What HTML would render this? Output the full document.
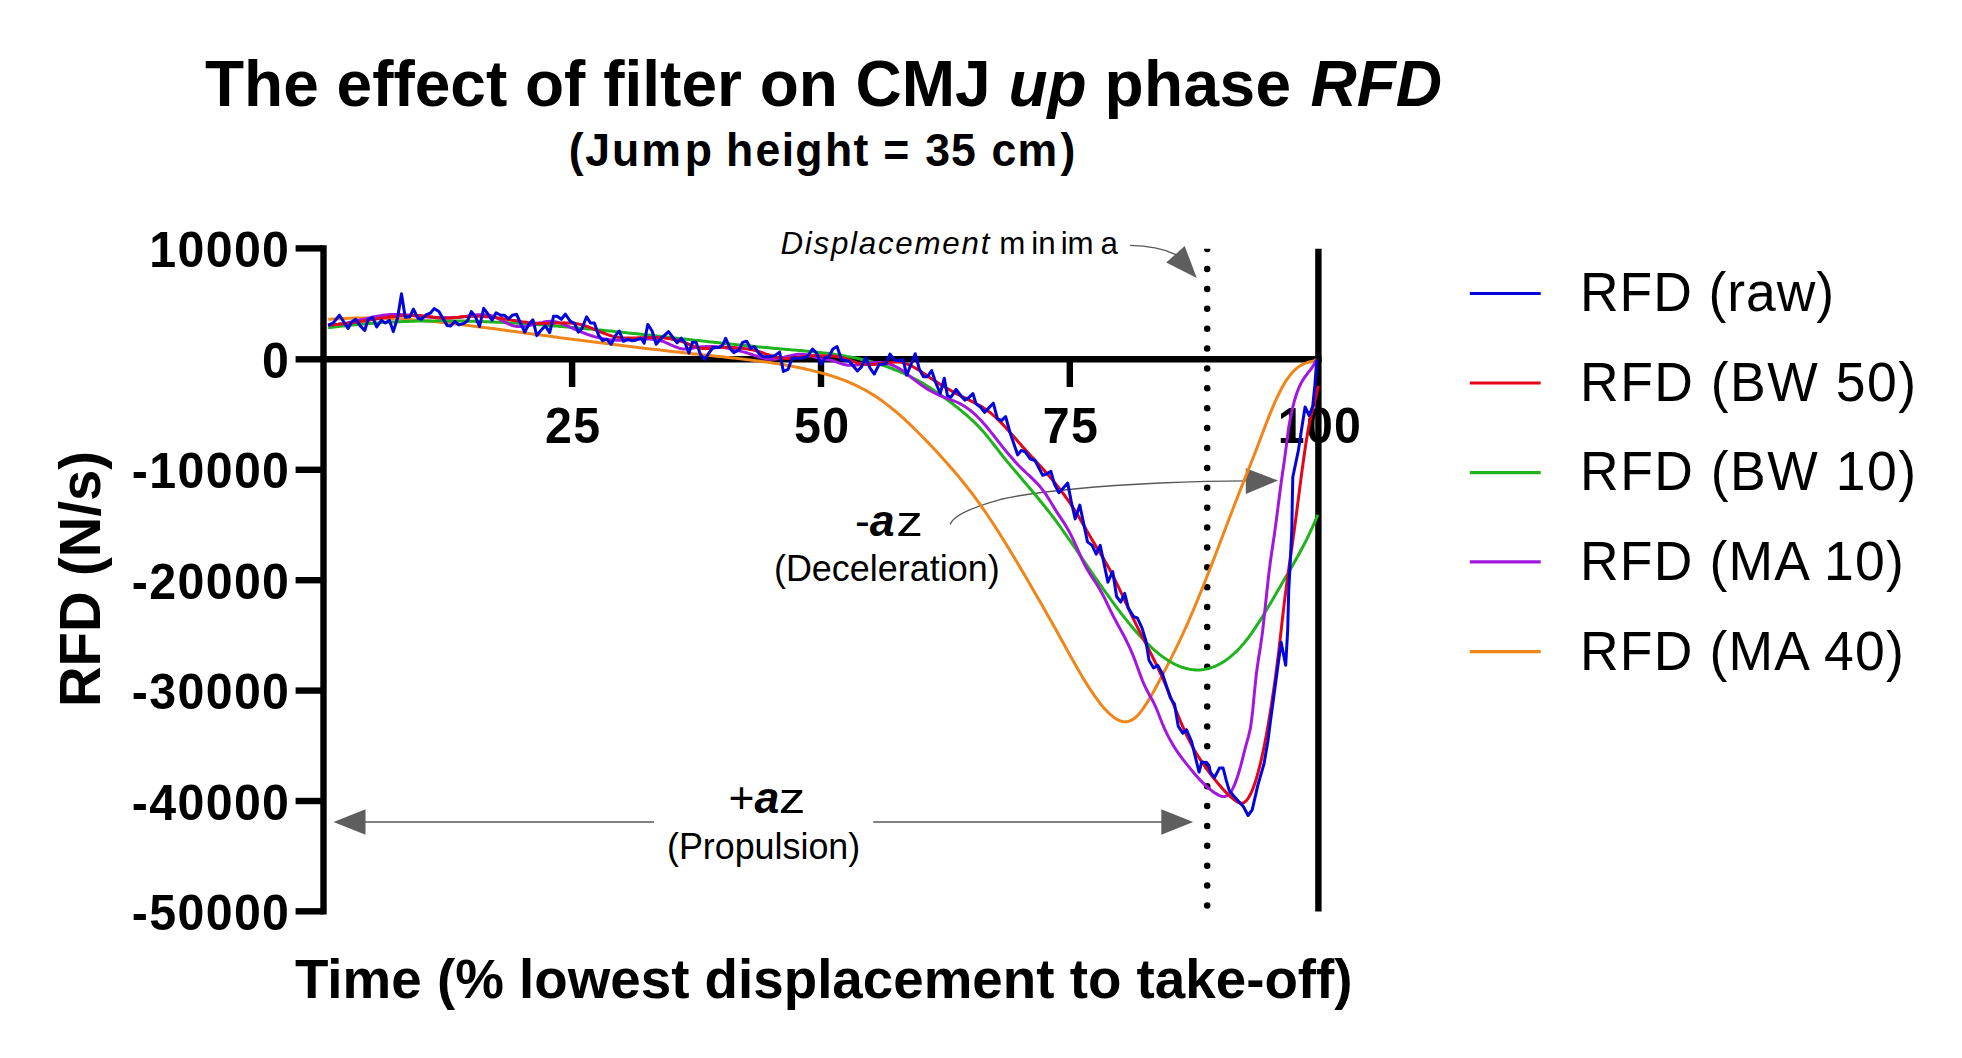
<!DOCTYPE html>
<html lang="en">
<head>
<meta charset="utf-8">
<title>The effect of filter on CMJ up phase RFD</title>
<style>
html,body{margin:0;padding:0;background:#fff;}
body{width:1962px;height:1058px;overflow:hidden;}
svg{display:block;}
</style>
</head>
<body>
<svg width="1962" height="1058" viewBox="0 0 1962 1058" font-family='"Liberation Sans", sans-serif'>
<rect width="1962" height="1058" fill="#ffffff"/>
<g font-weight="700" font-size="48.3" fill="#000" text-anchor="middle" letter-spacing="1.35">
<text transform="translate(573.3,443.4) scale(1,1.035)">25</text>
<text transform="translate(822.2,443.4) scale(1,1.035)">50</text>
<text transform="translate(1071.0,443.4) scale(1,1.035)">75</text>
<text transform="translate(1320.0,443.4) scale(1,1.035)">100</text>
</g>
<g stroke="#000" stroke-width="6.4" fill="none" stroke-linecap="butt">
<line x1="323.5" y1="245.2" x2="323.5" y2="914.5"/>
<line x1="323.5" y1="359.3" x2="1321.6" y2="359.3"/>
<line x1="1318.4" y1="248.8" x2="1318.4" y2="911.6"/>
<line x1="295.6" y1="248.4" x2="323.5" y2="248.4"/>
<line x1="295.6" y1="359.3" x2="323.5" y2="359.3"/>
<line x1="295.6" y1="469.8" x2="323.5" y2="469.8"/>
<line x1="295.6" y1="580.2" x2="323.5" y2="580.2"/>
<line x1="295.6" y1="690.6" x2="323.5" y2="690.6"/>
<line x1="295.6" y1="801.0" x2="323.5" y2="801.0"/>
<line x1="295.6" y1="911.3" x2="323.5" y2="911.3"/>
<line x1="572.1" y1="359.3" x2="572.1" y2="387.0"/>
<line x1="821.0" y1="359.3" x2="821.0" y2="387.0"/>
<line x1="1069.8" y1="359.3" x2="1069.8" y2="387.0"/>
</g>
<clipPath id="dc"><rect x="1200" y="248.7" width="15" height="680"/></clipPath>
<g fill="#000" clip-path="url(#dc)">
<circle cx="1207.2" cy="249.10" r="3.25"/>
<circle cx="1207.2" cy="268.99" r="3.25"/>
<circle cx="1207.2" cy="288.88" r="3.25"/>
<circle cx="1207.2" cy="308.77" r="3.25"/>
<circle cx="1207.2" cy="328.66" r="3.25"/>
<circle cx="1207.2" cy="348.55" r="3.25"/>
<circle cx="1207.2" cy="368.44" r="3.25"/>
<circle cx="1207.2" cy="388.33" r="3.25"/>
<circle cx="1207.2" cy="408.22" r="3.25"/>
<circle cx="1207.2" cy="428.11" r="3.25"/>
<circle cx="1207.2" cy="448.00" r="3.25"/>
<circle cx="1207.2" cy="467.89" r="3.25"/>
<circle cx="1207.2" cy="487.78" r="3.25"/>
<circle cx="1207.2" cy="507.67" r="3.25"/>
<circle cx="1207.2" cy="527.56" r="3.25"/>
<circle cx="1207.2" cy="547.45" r="3.25"/>
<circle cx="1207.2" cy="567.34" r="3.25"/>
<circle cx="1207.2" cy="587.23" r="3.25"/>
<circle cx="1207.2" cy="607.12" r="3.25"/>
<circle cx="1207.2" cy="627.01" r="3.25"/>
<circle cx="1207.2" cy="646.90" r="3.25"/>
<circle cx="1207.2" cy="666.79" r="3.25"/>
<circle cx="1207.2" cy="686.68" r="3.25"/>
<circle cx="1207.2" cy="706.57" r="3.25"/>
<circle cx="1207.2" cy="726.46" r="3.25"/>
<circle cx="1207.2" cy="746.35" r="3.25"/>
<circle cx="1207.2" cy="766.24" r="3.25"/>
<circle cx="1207.2" cy="786.13" r="3.25"/>
<circle cx="1207.2" cy="806.02" r="3.25"/>
<circle cx="1207.2" cy="825.91" r="3.25"/>
<circle cx="1207.2" cy="845.80" r="3.25"/>
<circle cx="1207.2" cy="865.69" r="3.25"/>
<circle cx="1207.2" cy="885.58" r="3.25"/>
<circle cx="1207.2" cy="905.47" r="3.25"/>
</g>
<g font-weight="700" font-size="48.3" fill="#000" text-anchor="end" letter-spacing="1.35">
<text transform="translate(290.3,266.9) scale(1,1.03)">10000</text>
<text transform="translate(290.3,377.8) scale(1,1.03)">0</text>
<text transform="translate(290.3,488.3) scale(1,1.03)">-10000</text>
<text transform="translate(290.3,598.7) scale(1,1.03)">-20000</text>
<text transform="translate(290.3,709.1) scale(1,1.03)">-30000</text>
<text transform="translate(290.3,819.5) scale(1,1.03)">-40000</text>
<text transform="translate(290.3,929.8) scale(1,1.03)">-50000</text>
</g>
<g stroke="#585858" stroke-width="1.4" fill="none">
<line x1="364" y1="822" x2="654" y2="822"/>
<line x1="873.2" y1="822" x2="1163" y2="822"/>
<path d="M950.2,524.5 C953,515 975,506.5 1001,499.3 C1040,490.5 1110,485.5 1160,483 C1195,481.6 1225,481 1247,480.9"/>
<path d="M1129.9,245.4 C1148,245.6 1163,248.5 1176,254.6"/>
</g>
<g fill="#5e5e5e" stroke="none">
<polygon points="333.5,822 365.5,809.3 365.5,834.8"/>
<polygon points="1193.2,822 1161.3,809.3 1161.3,834.8"/>
<polygon points="1278,480.6 1245.8,468.2 1245.8,494.1"/>
<polygon points="1196.8,277.9 1184.7,246.1 1166.2,262.6"/>
</g>
<g fill="none" stroke-width="3.0" stroke-linejoin="round" stroke-linecap="butt">
<path stroke="#f08519" d="M328.2,319.3 L330.2,319.3 L332.2,319.1 L334.2,319.0 L336.2,318.9 L338.2,318.8 L340.2,318.7 L342.2,318.6 L344.2,318.5 L346.2,318.4 L348.2,318.3 L350.2,318.2 L352.2,318.2 L354.2,318.1 L356.2,318.1 L358.2,318.1 L360.2,318.0 L362.2,318.0 L364.2,318.0 L366.2,318.0 L368.2,318.0 L370.2,318.0 L372.2,318.0 L374.2,318.1 L376.2,318.1 L378.2,318.1 L380.2,318.2 L382.2,318.2 L384.2,318.3 L386.2,318.4 L388.2,318.4 L390.2,318.5 L392.2,318.6 L394.2,318.7 L396.2,318.8 L398.2,318.9 L400.2,319.0 L402.2,319.1 L404.2,319.2 L406.2,319.4 L408.2,319.5 L410.2,319.6 L412.2,319.8 L414.2,319.9 L416.2,320.1 L418.2,320.2 L420.2,320.4 L422.2,320.6 L424.2,320.7 L426.2,320.9 L428.2,321.1 L430.2,321.3 L432.2,321.5 L434.2,321.6 L436.2,321.8 L438.2,322.0 L440.2,322.2 L442.2,322.5 L444.2,322.7 L446.2,322.9 L448.2,323.1 L450.2,323.3 L452.2,323.5 L454.2,323.8 L456.2,324.0 L458.2,324.2 L460.2,324.5 L462.2,324.7 L464.2,324.9 L466.2,325.2 L468.2,325.4 L470.2,325.7 L472.2,325.9 L474.2,326.2 L476.2,326.4 L478.2,326.7 L480.2,327.0 L482.2,327.2 L484.2,327.5 L486.2,327.7 L488.2,328.0 L490.2,328.3 L492.2,328.5 L494.3,328.8 L496.3,329.1 L498.3,329.3 L500.3,329.6 L502.3,329.9 L504.3,330.1 L506.3,330.4 L508.3,330.7 L510.3,331.0 L512.3,331.2 L514.3,331.5 L516.3,331.8 L518.3,332.1 L520.3,332.3 L522.3,332.6 L524.3,332.9 L526.3,333.1 L528.3,333.4 L530.3,333.7 L532.3,333.9 L534.3,334.2 L536.3,334.5 L538.3,334.7 L540.3,335.0 L542.3,335.3 L544.3,335.5 L546.3,335.8 L548.3,336.1 L550.3,336.3 L552.3,336.6 L554.3,336.9 L556.3,337.1 L558.3,337.4 L560.3,337.7 L562.3,337.9 L564.3,338.2 L566.3,338.4 L568.3,338.7 L570.3,339.0 L572.3,339.2 L574.3,339.5 L576.3,339.7 L578.3,340.0 L580.3,340.3 L582.3,340.5 L584.3,340.8 L586.3,341.0 L588.3,341.3 L590.3,341.5 L592.3,341.8 L594.3,342.0 L596.3,342.3 L598.3,342.6 L600.3,342.8 L602.3,343.1 L604.3,343.3 L606.3,343.6 L608.3,343.8 L610.3,344.1 L612.3,344.3 L614.3,344.5 L616.3,344.8 L618.3,345.0 L620.3,345.3 L622.3,345.5 L624.3,345.8 L626.3,346.0 L628.3,346.3 L630.3,346.5 L632.3,346.7 L634.3,347.0 L636.3,347.2 L638.3,347.5 L640.3,347.7 L642.3,347.9 L644.3,348.2 L646.3,348.4 L648.3,348.7 L650.3,348.9 L652.3,349.1 L654.3,349.4 L656.3,349.6 L658.3,349.8 L660.3,350.1 L662.3,350.3 L664.3,350.5 L666.3,350.7 L668.3,351.0 L670.3,351.2 L672.3,351.4 L674.3,351.7 L676.3,351.9 L678.3,352.1 L680.3,352.3 L682.3,352.5 L684.3,352.8 L686.3,353.0 L688.3,353.2 L690.3,353.4 L692.3,353.7 L694.3,353.9 L696.3,354.1 L698.3,354.3 L700.3,354.5 L702.3,354.7 L704.3,354.9 L706.3,355.2 L708.3,355.4 L710.3,355.6 L712.3,355.8 L714.3,356.0 L716.3,356.2 L718.3,356.4 L720.3,356.6 L722.3,356.8 L724.3,357.0 L726.3,357.3 L728.3,357.5 L730.3,357.7 L732.3,357.9 L734.3,358.1 L736.3,358.3 L738.3,358.6 L740.3,358.8 L742.3,359.0 L744.3,359.2 L746.3,359.5 L748.3,359.7 L750.3,359.9 L752.3,360.2 L754.3,360.4 L756.3,360.7 L758.3,360.9 L760.3,361.2 L762.3,361.5 L764.3,361.7 L766.3,362.0 L768.3,362.3 L770.3,362.6 L772.3,362.9 L774.3,363.2 L776.3,363.5 L778.3,363.8 L780.3,364.2 L782.3,364.5 L784.3,364.8 L786.3,365.2 L788.3,365.5 L790.3,365.9 L792.3,366.3 L794.3,366.7 L796.3,367.1 L798.3,367.5 L800.3,367.9 L802.3,368.3 L804.3,368.7 L806.3,369.2 L808.3,369.6 L810.3,370.1 L812.3,370.6 L814.3,371.1 L816.3,371.6 L818.3,372.1 L820.3,372.6 L822.4,373.2 L824.4,373.7 L826.4,374.3 L828.4,374.9 L830.4,375.5 L832.4,376.1 L834.4,376.8 L836.4,377.5 L838.4,378.2 L840.4,378.9 L842.4,379.6 L844.4,380.4 L846.4,381.2 L848.4,382.0 L850.4,382.9 L852.4,383.8 L854.4,384.7 L856.4,385.6 L858.4,386.6 L860.4,387.6 L862.4,388.7 L864.4,389.7 L866.4,390.8 L868.4,392.0 L870.4,393.2 L872.4,394.4 L874.4,395.6 L876.4,396.9 L878.4,398.3 L880.4,399.7 L882.4,401.1 L884.4,402.6 L886.4,404.1 L888.4,405.6 L890.4,407.2 L892.4,408.8 L894.4,410.5 L896.4,412.2 L898.4,413.9 L900.4,415.6 L902.4,417.4 L904.4,419.2 L906.4,421.1 L908.4,422.9 L910.4,424.8 L912.4,426.8 L914.4,428.7 L916.4,430.7 L918.4,432.7 L920.4,434.7 L922.4,436.7 L924.4,438.8 L926.4,440.9 L928.4,442.9 L930.4,445.0 L932.4,447.2 L934.4,449.3 L936.4,451.4 L938.4,453.6 L940.4,455.8 L942.4,458.0 L944.4,460.2 L946.4,462.4 L948.4,464.7 L950.4,467.0 L952.4,469.3 L954.4,471.6 L956.4,474.0 L958.4,476.4 L960.4,478.8 L962.4,481.2 L964.4,483.7 L966.4,486.2 L968.4,488.8 L970.4,491.4 L972.4,494.0 L974.4,496.7 L976.4,499.4 L978.4,502.1 L980.4,504.9 L982.4,507.8 L984.4,510.6 L986.4,513.5 L988.4,516.5 L990.4,519.5 L992.4,522.5 L994.4,525.6 L996.4,528.7 L998.4,531.8 L1000.4,535.0 L1002.4,538.2 L1004.4,541.4 L1006.4,544.6 L1008.4,547.9 L1010.4,551.2 L1012.4,554.5 L1014.4,557.8 L1016.4,561.2 L1018.4,564.5 L1020.4,567.9 L1022.4,571.3 L1024.4,574.7 L1026.4,578.1 L1028.4,581.6 L1030.4,585.0 L1032.4,588.4 L1034.4,591.9 L1036.4,595.4 L1038.4,598.8 L1040.4,602.3 L1042.4,605.8 L1044.4,609.3 L1046.4,612.9 L1048.4,616.4 L1050.4,619.9 L1052.4,623.5 L1054.4,627.0 L1056.4,630.6 L1058.4,634.2 L1060.4,637.8 L1062.4,641.4 L1064.4,645.0 L1066.4,648.7 L1068.4,652.3 L1070.4,655.9 L1072.4,659.5 L1074.4,663.0 L1076.4,666.6 L1078.4,670.1 L1080.4,673.5 L1082.4,676.9 L1084.4,680.2 L1086.4,683.4 L1088.4,686.6 L1090.4,689.7 L1092.4,692.7 L1094.4,695.6 L1096.4,698.4 L1098.4,701.1 L1100.4,703.7 L1102.4,706.1 L1104.4,708.4 L1106.4,710.6 L1108.4,712.6 L1110.4,714.5 L1112.4,716.2 L1114.4,717.7 L1116.4,719.0 L1118.4,720.1 L1120.4,720.9 L1122.4,721.5 L1124.4,721.7 L1126.4,721.7 L1128.4,721.4 L1130.4,720.7 L1132.4,719.7 L1134.4,718.3 L1136.4,716.6 L1138.4,714.5 L1140.4,712.2 L1142.4,709.6 L1144.4,706.7 L1146.4,703.7 L1148.4,700.4 L1150.4,697.0 L1152.5,693.5 L1154.5,689.9 L1156.5,686.2 L1158.5,682.4 L1160.5,678.7 L1162.5,674.9 L1164.5,671.1 L1166.5,667.2 L1168.5,663.3 L1170.5,659.4 L1172.5,655.4 L1174.5,651.4 L1176.5,647.3 L1178.5,643.1 L1180.5,638.9 L1182.5,634.6 L1184.5,630.2 L1186.5,625.8 L1188.5,621.3 L1190.5,616.7 L1192.5,612.0 L1194.5,607.3 L1196.5,602.5 L1198.5,597.7 L1200.5,592.8 L1202.5,587.8 L1204.5,582.8 L1206.5,577.8 L1208.5,572.7 L1210.5,567.6 L1212.5,562.4 L1214.5,557.2 L1216.5,552.0 L1218.5,546.8 L1220.5,541.5 L1222.5,536.3 L1224.5,531.0 L1226.5,525.7 L1228.5,520.5 L1230.5,515.2 L1232.5,510.0 L1234.5,504.8 L1236.5,499.7 L1238.5,494.5 L1240.5,489.4 L1242.5,484.4 L1244.5,479.4 L1246.5,474.4 L1248.5,469.4 L1250.5,464.4 L1252.5,459.3 L1254.5,454.2 L1256.5,449.1 L1258.5,443.8 L1260.5,438.5 L1262.5,433.2 L1264.5,427.9 L1266.5,422.7 L1268.5,417.6 L1270.5,412.6 L1272.5,407.8 L1274.5,403.1 L1276.5,398.7 L1278.5,394.5 L1280.5,390.5 L1282.5,386.7 L1284.5,383.3 L1286.5,380.1 L1288.5,377.3 L1290.5,374.7 L1292.5,372.3 L1294.5,370.3 L1296.5,368.4 L1298.5,366.9 L1300.5,365.6 L1302.5,364.5 L1304.5,363.6 L1306.5,362.9 L1308.5,362.3 L1310.5,361.7 L1312.5,361.2 L1314.5,360.6 L1316.5,359.6"/>
<path stroke="#1fb41c" d="M328.2,327.5 L330.2,327.6 L332.2,327.3 L334.2,327.1 L336.2,326.8 L338.2,326.6 L340.2,326.3 L342.2,326.1 L344.2,325.9 L346.2,325.7 L348.2,325.5 L350.2,325.2 L352.2,325.0 L354.2,324.8 L356.2,324.7 L358.2,324.5 L360.3,324.3 L362.3,324.1 L364.3,323.9 L366.3,323.8 L368.3,323.6 L370.3,323.4 L372.3,323.3 L374.3,323.1 L376.3,323.0 L378.3,322.9 L380.3,322.7 L382.3,322.6 L384.3,322.5 L386.3,322.4 L388.3,322.3 L390.3,322.1 L392.3,322.0 L394.3,321.9 L396.3,321.8 L398.3,321.8 L400.3,321.7 L402.3,321.6 L404.3,321.5 L406.3,321.4 L408.3,321.4 L410.3,321.3 L412.3,321.2 L414.3,321.2 L416.3,321.1 L418.3,321.1 L420.3,321.0 L422.4,321.0 L424.4,321.0 L426.4,320.9 L428.4,320.9 L430.4,320.9 L432.4,320.9 L434.4,320.9 L436.4,320.8 L438.4,320.8 L440.4,320.8 L442.4,320.8 L444.4,320.8 L446.4,320.8 L448.4,320.9 L450.4,320.9 L452.4,320.9 L454.4,320.9 L456.4,320.9 L458.4,321.0 L460.4,321.0 L462.4,321.0 L464.4,321.1 L466.4,321.1 L468.4,321.2 L470.4,321.2 L472.4,321.3 L474.4,321.3 L476.4,321.4 L478.4,321.4 L480.4,321.5 L482.4,321.6 L484.5,321.7 L486.5,321.7 L488.5,321.8 L490.5,321.9 L492.5,322.0 L494.5,322.1 L496.5,322.2 L498.5,322.2 L500.5,322.3 L502.5,322.4 L504.5,322.5 L506.5,322.6 L508.5,322.8 L510.5,322.9 L512.5,323.0 L514.5,323.1 L516.5,323.2 L518.5,323.3 L520.5,323.5 L522.5,323.6 L524.5,323.7 L526.5,323.8 L528.5,324.0 L530.5,324.1 L532.5,324.2 L534.5,324.4 L536.5,324.5 L538.5,324.7 L540.5,324.8 L542.5,325.0 L544.5,325.1 L546.6,325.3 L548.6,325.4 L550.6,325.6 L552.6,325.7 L554.6,325.9 L556.6,326.1 L558.6,326.2 L560.6,326.4 L562.6,326.6 L564.6,326.7 L566.6,326.9 L568.6,327.1 L570.6,327.3 L572.6,327.4 L574.6,327.6 L576.6,327.8 L578.6,328.0 L580.6,328.2 L582.6,328.4 L584.6,328.5 L586.6,328.7 L588.6,328.9 L590.6,329.1 L592.6,329.3 L594.6,329.5 L596.6,329.7 L598.6,329.9 L600.6,330.1 L602.6,330.3 L604.6,330.5 L606.7,330.7 L608.7,330.9 L610.7,331.1 L612.7,331.3 L614.7,331.5 L616.7,331.7 L618.7,331.9 L620.7,332.1 L622.7,332.3 L624.7,332.5 L626.7,332.8 L628.7,333.0 L630.7,333.2 L632.7,333.4 L634.7,333.6 L636.7,333.8 L638.7,334.0 L640.7,334.3 L642.7,334.5 L644.7,334.7 L646.7,334.9 L648.7,335.1 L650.7,335.3 L652.7,335.6 L654.7,335.8 L656.7,336.0 L658.7,336.2 L660.7,336.4 L662.7,336.7 L664.7,336.9 L666.7,337.1 L668.8,337.3 L670.8,337.5 L672.8,337.8 L674.8,338.0 L676.8,338.2 L678.8,338.4 L680.8,338.6 L682.8,338.9 L684.8,339.1 L686.8,339.3 L688.8,339.5 L690.8,339.7 L692.8,340.0 L694.8,340.2 L696.8,340.4 L698.8,340.6 L700.8,340.8 L702.8,341.1 L704.8,341.3 L706.8,341.5 L708.8,341.7 L710.8,341.9 L712.8,342.1 L714.8,342.4 L716.8,342.6 L718.8,342.8 L720.8,343.0 L722.8,343.2 L724.8,343.4 L726.8,343.6 L728.8,343.8 L730.9,344.1 L732.9,344.3 L734.9,344.5 L736.9,344.7 L738.9,344.9 L740.9,345.1 L742.9,345.3 L744.9,345.5 L746.9,345.7 L748.9,345.9 L750.9,346.1 L752.9,346.3 L754.9,346.5 L756.9,346.7 L758.9,346.9 L760.9,347.1 L762.9,347.2 L764.9,347.4 L766.9,347.6 L768.9,347.8 L770.9,348.0 L772.9,348.2 L774.9,348.4 L776.9,348.5 L778.9,348.7 L780.9,348.9 L782.9,349.1 L784.9,349.2 L786.9,349.4 L788.9,349.6 L790.9,349.8 L793.0,349.9 L795.0,350.1 L797.0,350.3 L799.0,350.5 L801.0,350.6 L803.0,350.8 L805.0,351.0 L807.0,351.2 L809.0,351.4 L811.0,351.6 L813.0,351.8 L815.0,352.0 L817.0,352.2 L819.0,352.4 L821.0,352.6 L823.0,352.9 L825.0,353.1 L827.0,353.3 L829.0,353.6 L831.0,353.9 L833.0,354.1 L835.0,354.4 L837.0,354.7 L839.0,355.0 L841.0,355.3 L843.0,355.7 L845.0,356.0 L847.0,356.4 L849.0,356.7 L851.0,357.1 L853.0,357.5 L855.1,357.9 L857.1,358.3 L859.1,358.8 L861.1,359.2 L863.1,359.7 L865.1,360.2 L867.1,360.7 L869.1,361.2 L871.1,361.7 L873.1,362.3 L875.1,362.9 L877.1,363.5 L879.1,364.1 L881.1,364.7 L883.1,365.4 L885.1,366.0 L887.1,366.7 L889.1,367.5 L891.1,368.2 L893.1,369.0 L895.1,369.8 L897.1,370.6 L899.1,371.4 L901.1,372.3 L903.1,373.2 L905.1,374.1 L907.1,375.0 L909.1,376.0 L911.1,377.0 L913.1,378.0 L915.1,379.1 L917.2,380.1 L919.2,381.3 L921.2,382.4 L923.2,383.6 L925.2,384.8 L927.2,386.0 L929.2,387.2 L931.2,388.5 L933.2,389.8 L935.2,391.2 L937.2,392.5 L939.2,393.9 L941.2,395.3 L943.2,396.8 L945.2,398.2 L947.2,399.7 L949.2,401.2 L951.2,402.7 L953.2,404.3 L955.2,405.9 L957.2,407.4 L959.2,409.1 L961.2,410.7 L963.2,412.3 L965.2,414.0 L967.2,415.7 L969.2,417.5 L971.2,419.3 L973.2,421.2 L975.2,423.1 L977.2,425.1 L979.3,427.2 L981.3,429.4 L983.3,431.6 L985.3,434.0 L987.3,436.4 L989.3,438.9 L991.3,441.4 L993.3,444.0 L995.3,446.5 L997.3,449.1 L999.3,451.7 L1001.3,454.2 L1003.3,456.7 L1005.3,459.2 L1007.3,461.7 L1009.3,464.1 L1011.3,466.5 L1013.3,468.9 L1015.3,471.3 L1017.3,473.6 L1019.3,476.0 L1021.3,478.3 L1023.3,480.7 L1025.3,483.0 L1027.3,485.4 L1029.3,487.8 L1031.3,490.1 L1033.3,492.5 L1035.3,494.9 L1037.3,497.3 L1039.3,499.7 L1041.4,502.2 L1043.4,504.7 L1045.4,507.2 L1047.4,509.7 L1049.4,512.3 L1051.4,514.9 L1053.4,517.5 L1055.4,520.2 L1057.4,522.9 L1059.4,525.7 L1061.4,528.5 L1063.4,531.3 L1065.4,534.1 L1067.4,537.0 L1069.4,539.8 L1071.4,542.7 L1073.4,545.6 L1075.4,548.5 L1077.4,551.5 L1079.4,554.4 L1081.4,557.3 L1083.4,560.3 L1085.4,563.2 L1087.4,566.1 L1089.4,569.1 L1091.4,572.0 L1093.4,574.9 L1095.4,577.8 L1097.4,580.7 L1099.4,583.6 L1101.5,586.5 L1103.5,589.3 L1105.5,592.1 L1107.5,594.9 L1109.5,597.7 L1111.5,600.5 L1113.5,603.2 L1115.5,605.9 L1117.5,608.6 L1119.5,611.2 L1121.5,613.8 L1123.5,616.4 L1125.5,618.9 L1127.5,621.4 L1129.5,623.8 L1131.5,626.2 L1133.5,628.6 L1135.5,630.9 L1137.5,633.2 L1139.5,635.4 L1141.5,637.5 L1143.5,639.7 L1145.5,641.7 L1147.5,643.7 L1149.5,645.6 L1151.5,647.5 L1153.5,649.3 L1155.5,651.1 L1157.5,652.7 L1159.5,654.4 L1161.5,655.9 L1163.6,657.4 L1165.6,658.8 L1167.6,660.1 L1169.6,661.3 L1171.6,662.5 L1173.6,663.6 L1175.6,664.6 L1177.6,665.5 L1179.6,666.3 L1181.6,667.1 L1183.6,667.7 L1185.6,668.3 L1187.6,668.8 L1189.6,669.2 L1191.6,669.5 L1193.6,669.7 L1195.6,669.9 L1197.6,669.9 L1199.6,669.9 L1201.6,669.7 L1203.6,669.5 L1205.6,669.1 L1207.6,668.7 L1209.6,668.2 L1211.6,667.5 L1213.6,666.8 L1215.6,666.0 L1217.6,665.1 L1219.6,664.0 L1221.6,662.9 L1223.6,661.7 L1225.7,660.3 L1227.7,658.9 L1229.7,657.3 L1231.7,655.7 L1233.7,653.9 L1235.7,652.1 L1237.7,650.1 L1239.7,648.0 L1241.7,645.8 L1243.7,643.5 L1245.7,641.0 L1247.7,638.5 L1249.7,635.8 L1251.7,633.1 L1253.7,630.2 L1255.7,627.2 L1257.7,624.2 L1259.7,621.1 L1261.7,617.9 L1263.7,614.6 L1265.7,611.3 L1267.7,608.0 L1269.7,604.6 L1271.7,601.2 L1273.7,597.7 L1275.7,594.3 L1277.7,590.8 L1279.7,587.4 L1281.7,583.9 L1283.7,580.5 L1285.7,577.1 L1287.8,573.7 L1289.8,570.2 L1291.8,566.8 L1293.8,563.3 L1295.8,559.8 L1297.8,556.2 L1299.8,552.5 L1301.8,548.8 L1303.8,545.0 L1305.8,541.1 L1307.8,537.0 L1309.8,532.9 L1311.8,528.6 L1313.8,524.2 L1315.8,519.7 L1317.8,514.7"/>
<path stroke="#a316e0" d="M328.2,324.9 L330.2,324.9 L332.2,324.8 L334.2,324.7 L336.2,324.5 L338.2,324.3 L340.2,324.0 L342.2,323.8 L344.2,323.4 L346.2,323.1 L348.2,322.7 L350.2,322.3 L352.2,321.9 L354.2,321.4 L356.2,321.0 L358.2,320.5 L360.2,320.0 L362.2,319.5 L364.2,319.1 L366.2,318.6 L368.2,318.1 L370.2,317.7 L372.2,317.2 L374.2,316.8 L376.2,316.4 L378.2,316.1 L380.2,315.7 L382.2,315.4 L384.2,315.1 L386.2,314.9 L388.2,314.7 L390.2,314.6 L392.2,314.5 L394.2,314.4 L396.2,314.4 L398.2,314.5 L400.2,314.6 L402.2,314.7 L404.2,314.8 L406.2,315.0 L408.2,315.1 L410.2,315.3 L412.2,315.5 L414.2,315.7 L416.2,315.9 L418.2,316.1 L420.2,316.3 L422.2,316.5 L424.2,316.7 L426.2,316.8 L428.2,317.0 L430.2,317.2 L432.2,317.3 L434.2,317.4 L436.2,317.5 L438.2,317.6 L440.2,317.7 L442.2,317.8 L444.2,317.8 L446.2,317.8 L448.2,317.8 L450.2,317.8 L452.2,317.7 L454.2,317.6 L456.2,317.5 L458.2,317.4 L460.2,317.2 L462.2,316.9 L464.2,316.7 L466.2,316.4 L468.2,316.1 L470.2,315.8 L472.2,315.5 L474.2,315.2 L476.2,315.0 L478.2,314.8 L480.2,314.7 L482.2,314.6 L484.2,314.7 L486.2,314.8 L488.2,315.1 L490.2,315.5 L492.2,316.0 L494.3,316.7 L496.3,317.6 L498.3,318.6 L500.3,319.6 L502.3,320.7 L504.3,321.8 L506.3,322.9 L508.3,323.9 L510.3,324.7 L512.3,325.5 L514.3,326.0 L516.3,326.4 L518.3,326.6 L520.3,326.6 L522.3,326.6 L524.3,326.4 L526.3,326.1 L528.3,325.8 L530.3,325.3 L532.3,324.9 L534.3,324.4 L536.3,323.8 L538.3,323.3 L540.3,322.8 L542.3,322.4 L544.3,321.9 L546.3,321.6 L548.3,321.4 L550.3,321.3 L552.3,321.4 L554.3,321.6 L556.3,322.0 L558.3,322.5 L560.3,323.2 L562.3,323.9 L564.3,324.7 L566.3,325.5 L568.3,326.4 L570.3,327.3 L572.3,328.2 L574.3,329.1 L576.3,329.9 L578.3,330.8 L580.3,331.6 L582.3,332.4 L584.3,333.2 L586.3,334.0 L588.3,334.7 L590.3,335.3 L592.3,336.0 L594.3,336.6 L596.3,337.1 L598.3,337.6 L600.3,338.1 L602.3,338.5 L604.3,338.9 L606.3,339.2 L608.3,339.5 L610.3,339.7 L612.3,339.9 L614.3,340.1 L616.3,340.2 L618.3,340.3 L620.3,340.3 L622.3,340.3 L624.3,340.2 L626.3,340.1 L628.3,340.0 L630.3,339.8 L632.3,339.7 L634.3,339.5 L636.3,339.4 L638.3,339.2 L640.3,339.1 L642.3,339.0 L644.3,338.9 L646.3,338.9 L648.3,338.9 L650.3,339.0 L652.3,339.2 L654.3,339.4 L656.3,339.7 L658.3,340.1 L660.3,340.6 L662.3,341.2 L664.3,341.9 L666.3,342.8 L668.3,343.6 L670.3,344.6 L672.3,345.5 L674.3,346.4 L676.3,347.2 L678.3,347.9 L680.3,348.5 L682.3,348.9 L684.3,349.1 L686.3,349.1 L688.3,348.9 L690.3,348.6 L692.3,348.3 L694.3,347.9 L696.3,347.5 L698.3,347.2 L700.3,347.0 L702.3,346.8 L704.3,346.7 L706.3,346.6 L708.3,346.5 L710.3,346.5 L712.3,346.5 L714.3,346.6 L716.3,346.7 L718.3,346.9 L720.3,347.1 L722.3,347.3 L724.3,347.6 L726.3,347.9 L728.3,348.3 L730.3,348.6 L732.3,349.1 L734.3,349.5 L736.3,350.0 L738.3,350.5 L740.3,351.0 L742.3,351.6 L744.3,352.1 L746.3,352.7 L748.3,353.4 L750.3,354.0 L752.3,354.7 L754.3,355.4 L756.3,356.0 L758.3,356.7 L760.3,357.3 L762.3,357.9 L764.3,358.4 L766.3,358.8 L768.3,359.1 L770.3,359.2 L772.3,359.3 L774.3,359.2 L776.3,359.0 L778.3,358.6 L780.3,358.2 L782.3,357.8 L784.3,357.3 L786.3,356.7 L788.3,356.2 L790.3,355.7 L792.3,355.3 L794.3,354.9 L796.3,354.5 L798.3,354.3 L800.3,354.2 L802.3,354.3 L804.3,354.5 L806.3,354.8 L808.3,355.3 L810.3,355.8 L812.3,356.4 L814.3,357.0 L816.3,357.6 L818.3,358.1 L820.3,358.6 L822.4,359.0 L824.4,359.3 L826.4,359.5 L828.4,359.8 L830.4,360.1 L832.4,360.5 L834.4,361.1 L836.4,361.8 L838.4,362.7 L840.4,363.4 L842.4,364.1 L844.4,364.6 L846.4,364.9 L848.4,365.2 L850.4,365.3 L852.4,365.3 L854.4,365.2 L856.4,365.0 L858.4,364.8 L860.4,364.5 L862.4,364.3 L864.4,363.9 L866.4,363.6 L868.4,363.3 L870.4,363.1 L872.4,362.8 L874.4,362.6 L876.4,362.5 L878.4,362.5 L880.4,362.5 L882.4,362.7 L884.4,363.0 L886.4,363.3 L888.4,363.8 L890.4,364.4 L892.4,365.2 L894.4,366.0 L896.4,367.0 L898.4,368.1 L900.4,369.3 L902.4,370.6 L904.4,372.0 L906.4,373.5 L908.4,375.1 L910.4,376.7 L912.4,378.3 L914.4,379.9 L916.4,381.4 L918.4,382.9 L920.4,384.4 L922.4,385.7 L924.4,387.1 L926.4,388.4 L928.4,389.6 L930.4,390.8 L932.4,391.9 L934.4,392.9 L936.4,393.9 L938.4,394.9 L940.4,395.8 L942.4,396.6 L944.4,397.4 L946.4,398.1 L948.4,398.8 L950.4,399.6 L952.4,400.3 L954.4,401.1 L956.4,402.0 L958.4,402.9 L960.4,403.9 L962.4,405.0 L964.4,406.2 L966.4,407.5 L968.4,408.9 L970.4,410.5 L972.4,412.1 L974.4,413.9 L976.4,415.7 L978.4,417.7 L980.4,419.8 L982.4,421.9 L984.4,424.2 L986.4,426.5 L988.4,429.0 L990.4,431.4 L992.4,433.9 L994.4,436.5 L996.4,439.0 L998.4,441.6 L1000.4,444.1 L1002.4,446.6 L1004.4,449.1 L1006.4,451.6 L1008.4,454.0 L1010.4,456.3 L1012.4,458.6 L1014.4,460.9 L1016.4,463.1 L1018.4,465.2 L1020.4,467.2 L1022.4,469.2 L1024.4,471.1 L1026.4,473.0 L1028.4,474.8 L1030.4,476.7 L1032.4,478.6 L1034.4,480.6 L1036.4,482.6 L1038.4,484.8 L1040.4,487.1 L1042.4,489.6 L1044.4,492.2 L1046.4,495.1 L1048.4,498.2 L1050.4,501.5 L1052.4,504.8 L1054.4,508.1 L1056.4,511.3 L1058.4,514.3 L1060.4,517.3 L1062.4,520.3 L1064.4,523.4 L1066.4,526.7 L1068.4,530.2 L1070.4,533.9 L1072.4,537.9 L1074.4,542.1 L1076.4,546.5 L1078.4,551.1 L1080.4,555.7 L1082.4,560.1 L1084.4,564.2 L1086.4,567.9 L1088.4,571.3 L1090.4,574.6 L1092.4,577.7 L1094.4,580.7 L1096.4,583.8 L1098.4,587.0 L1100.4,590.4 L1102.4,594.0 L1104.4,597.9 L1106.4,602.0 L1108.4,606.1 L1110.4,610.3 L1112.4,614.3 L1114.4,618.3 L1116.4,622.0 L1118.4,625.7 L1120.4,629.4 L1122.4,633.0 L1124.4,636.8 L1126.4,640.7 L1128.4,644.8 L1130.4,649.1 L1132.4,653.8 L1134.4,658.9 L1136.4,664.3 L1138.4,669.8 L1140.4,675.3 L1142.4,680.5 L1144.4,685.2 L1146.4,689.3 L1148.4,693.1 L1150.4,696.7 L1152.5,700.3 L1154.5,704.3 L1156.5,708.8 L1158.5,713.8 L1160.5,719.0 L1162.5,724.0 L1164.5,728.6 L1166.5,732.9 L1168.5,736.9 L1170.5,740.6 L1172.5,744.1 L1174.5,747.4 L1176.5,750.5 L1178.5,753.4 L1180.5,756.2 L1182.5,758.8 L1184.5,761.4 L1186.5,763.9 L1188.5,766.4 L1190.5,768.9 L1192.5,771.3 L1194.5,773.7 L1196.5,776.0 L1198.5,778.2 L1200.5,780.4 L1202.5,782.4 L1204.5,784.4 L1206.5,786.3 L1208.5,788.1 L1210.5,789.7 L1212.5,791.3 L1214.5,792.7 L1216.5,793.9 L1218.5,795.1 L1220.5,796.0 L1222.5,796.5 L1224.5,796.5 L1226.5,795.9 L1228.5,794.6 L1230.5,792.4 L1232.5,789.2 L1234.5,784.9 L1236.5,779.6 L1238.5,773.5 L1240.5,766.6 L1242.5,759.0 L1244.5,751.0 L1246.5,743.3 L1248.5,736.3 L1250.5,727.9 L1252.5,712.8 L1254.5,691.6 L1256.5,672.7 L1258.5,658.7 L1260.5,646.4 L1262.5,632.1 L1264.5,614.2 L1266.5,595.0 L1268.5,576.7 L1270.5,560.7 L1272.5,547.0 L1274.5,533.6 L1276.5,518.9 L1278.5,503.3 L1280.5,487.7 L1282.5,473.2 L1284.5,459.6 L1286.5,444.4 L1288.5,428.8 L1290.5,417.6 L1292.5,408.3 L1294.5,400.5 L1296.5,394.0 L1298.5,388.7 L1300.5,384.3 L1302.5,380.6 L1304.5,377.5 L1306.5,374.8 L1308.5,372.2 L1310.5,369.6 L1312.5,366.8 L1314.5,363.6 L1316.5,360.0"/>
<path stroke="#e3061a" d="M328.2,324.9 L330.2,324.7 L332.2,324.7 L334.2,324.6 L336.2,324.4 L338.2,324.3 L340.2,324.1 L342.2,324.0 L344.2,323.7 L346.2,323.5 L348.2,323.3 L350.2,323.0 L352.2,322.8 L354.2,322.5 L356.2,322.2 L358.2,321.9 L360.2,321.6 L362.2,321.2 L364.2,320.9 L366.2,320.6 L368.2,320.2 L370.2,319.9 L372.2,319.6 L374.2,319.2 L376.2,318.9 L378.2,318.6 L380.2,318.3 L382.2,318.0 L384.2,317.7 L386.2,317.4 L388.2,317.1 L390.2,316.9 L392.2,316.6 L394.2,316.4 L396.2,316.2 L398.2,316.0 L400.2,315.8 L402.2,315.7 L404.2,315.5 L406.2,315.4 L408.2,315.4 L410.2,315.3 L412.2,315.3 L414.2,315.3 L416.2,315.4 L418.2,315.5 L420.2,315.6 L422.2,315.8 L424.2,316.0 L426.2,316.2 L428.2,316.4 L430.2,316.7 L432.2,317.0 L434.2,317.2 L436.2,317.5 L438.2,317.7 L440.2,317.9 L442.2,318.0 L444.2,318.1 L446.2,318.1 L448.2,318.1 L450.2,318.0 L452.2,317.8 L454.2,317.6 L456.2,317.4 L458.2,317.2 L460.2,316.9 L462.2,316.7 L464.2,316.5 L466.2,316.4 L468.2,316.3 L470.2,316.2 L472.2,316.2 L474.2,316.1 L476.2,316.2 L478.2,316.2 L480.2,316.3 L482.2,316.4 L484.2,316.5 L486.2,316.7 L488.2,316.8 L490.2,317.0 L492.2,317.3 L494.2,317.5 L496.2,317.7 L498.2,318.0 L500.2,318.3 L502.2,318.6 L504.2,318.9 L506.2,319.2 L508.2,319.5 L510.2,319.8 L512.2,320.2 L514.2,320.5 L516.2,320.8 L518.2,321.1 L520.2,321.5 L522.2,321.8 L524.2,322.0 L526.2,322.3 L528.2,322.6 L530.2,322.8 L532.2,323.0 L534.2,323.2 L536.2,323.3 L538.2,323.4 L540.2,323.5 L542.2,323.5 L544.2,323.5 L546.2,323.5 L548.2,323.4 L550.2,323.3 L552.2,323.2 L554.2,323.2 L556.2,323.1 L558.2,323.0 L560.2,322.9 L562.2,322.9 L564.2,322.8 L566.2,322.9 L568.2,322.9 L570.2,323.0 L572.2,323.2 L574.2,323.4 L576.2,323.6 L578.2,324.0 L580.2,324.4 L582.2,324.9 L584.2,325.5 L586.2,326.1 L588.2,326.8 L590.2,327.6 L592.2,328.4 L594.2,329.3 L596.2,330.1 L598.2,331.0 L600.2,331.8 L602.2,332.6 L604.2,333.4 L606.2,334.2 L608.2,334.9 L610.2,335.5 L612.2,336.1 L614.2,336.6 L616.2,337.0 L618.2,337.3 L620.2,337.6 L622.2,337.8 L624.2,337.9 L626.2,338.0 L628.2,338.0 L630.2,338.0 L632.2,338.0 L634.2,338.0 L636.2,337.9 L638.2,337.8 L640.2,337.8 L642.2,337.7 L644.2,337.6 L646.2,337.6 L648.2,337.5 L650.2,337.5 L652.2,337.5 L654.2,337.5 L656.2,337.5 L658.2,337.6 L660.2,337.7 L662.2,337.9 L664.2,338.0 L666.2,338.3 L668.2,338.5 L670.2,338.8 L672.2,339.2 L674.2,339.6 L676.2,340.0 L678.2,340.5 L680.2,341.1 L682.2,341.7 L684.2,342.4 L686.2,343.2 L688.2,344.0 L690.2,344.8 L692.2,345.5 L694.2,346.3 L696.2,347.0 L698.2,347.6 L700.2,348.1 L702.2,348.4 L704.2,348.6 L706.2,348.6 L708.2,348.5 L710.2,348.3 L712.2,348.1 L714.2,347.9 L716.2,347.6 L718.2,347.5 L720.2,347.3 L722.2,347.3 L724.2,347.2 L726.2,347.2 L728.2,347.3 L730.2,347.3 L732.2,347.4 L734.2,347.5 L736.2,347.7 L738.2,347.9 L740.2,348.1 L742.2,348.3 L744.2,348.6 L746.2,348.8 L748.2,349.1 L750.2,349.5 L752.2,349.9 L754.2,350.3 L756.2,350.8 L758.2,351.4 L760.2,352.0 L762.2,352.7 L764.2,353.4 L766.2,354.1 L768.2,354.7 L770.2,355.4 L772.2,356.0 L774.2,356.6 L776.2,357.2 L778.2,357.6 L780.2,358.0 L782.2,358.2 L784.2,358.4 L786.2,358.4 L788.2,358.4 L790.2,358.3 L792.2,358.1 L794.2,357.9 L796.2,357.6 L798.2,357.4 L800.2,357.1 L802.2,356.8 L804.2,356.5 L806.2,356.3 L808.2,356.0 L810.2,355.8 L812.2,355.7 L814.2,355.6 L816.2,355.6 L818.2,355.7 L820.2,355.7 L822.2,355.8 L824.3,355.8 L826.3,355.9 L828.3,355.9 L830.3,356.0 L832.3,356.1 L834.3,356.3 L836.3,356.5 L838.3,356.8 L840.3,357.2 L842.3,357.7 L844.3,358.2 L846.3,358.9 L848.3,359.6 L850.3,360.4 L852.3,361.2 L854.3,361.9 L856.3,362.6 L858.3,363.2 L860.3,363.7 L862.3,364.0 L864.3,364.3 L866.3,364.5 L868.3,364.6 L870.3,364.6 L872.3,364.5 L874.3,364.4 L876.3,364.2 L878.3,364.0 L880.3,363.8 L882.3,363.5 L884.3,363.3 L886.3,363.0 L888.3,362.7 L890.3,362.5 L892.3,362.2 L894.3,362.1 L896.3,362.0 L898.3,362.1 L900.3,362.3 L902.3,362.6 L904.3,363.1 L906.3,363.8 L908.3,364.5 L910.3,365.4 L912.3,366.4 L914.3,367.5 L916.3,368.6 L918.3,369.8 L920.3,371.1 L922.3,372.4 L924.3,373.8 L926.3,375.1 L928.3,376.5 L930.3,377.9 L932.3,379.2 L934.3,380.5 L936.3,381.8 L938.3,383.1 L940.3,384.4 L942.3,385.6 L944.3,386.8 L946.3,388.0 L948.3,389.1 L950.3,390.3 L952.3,391.4 L954.3,392.5 L956.3,393.6 L958.3,394.6 L960.3,395.6 L962.3,396.7 L964.3,397.6 L966.3,398.6 L968.3,399.6 L970.3,400.6 L972.3,401.6 L974.3,402.6 L976.3,403.7 L978.3,404.8 L980.3,405.9 L982.3,407.1 L984.3,408.4 L986.3,409.8 L988.3,411.2 L990.3,412.7 L992.3,414.4 L994.3,416.1 L996.3,417.9 L998.3,419.9 L1000.3,421.9 L1002.3,423.9 L1004.3,426.1 L1006.3,428.3 L1008.3,430.5 L1010.3,432.7 L1012.3,435.0 L1014.3,437.3 L1016.3,439.6 L1018.3,441.9 L1020.3,444.1 L1022.3,446.4 L1024.3,448.6 L1026.3,450.8 L1028.3,453.0 L1030.3,455.2 L1032.3,457.4 L1034.3,459.5 L1036.3,461.7 L1038.3,463.9 L1040.3,466.1 L1042.3,468.3 L1044.3,470.5 L1046.3,472.8 L1048.3,475.1 L1050.3,477.4 L1052.3,479.7 L1054.3,482.2 L1056.3,484.6 L1058.3,487.1 L1060.3,489.7 L1062.3,492.3 L1064.3,495.0 L1066.3,497.8 L1068.3,500.6 L1070.3,503.5 L1072.3,506.5 L1074.3,509.6 L1076.3,512.8 L1078.3,516.1 L1080.3,519.4 L1082.3,522.9 L1084.3,526.3 L1086.3,529.8 L1088.3,533.3 L1090.3,536.8 L1092.3,540.2 L1094.3,543.6 L1096.3,546.9 L1098.3,550.2 L1100.3,553.4 L1102.3,556.6 L1104.3,560.0 L1106.3,563.4 L1108.3,567.0 L1110.3,570.7 L1112.3,574.5 L1114.3,578.5 L1116.3,582.6 L1118.3,586.7 L1120.3,590.9 L1122.3,595.2 L1124.3,599.5 L1126.3,603.8 L1128.3,608.1 L1130.3,612.3 L1132.3,616.6 L1134.3,620.7 L1136.3,624.8 L1138.3,628.8 L1140.3,632.8 L1142.3,636.7 L1144.3,640.7 L1146.3,644.6 L1148.3,648.5 L1150.3,652.4 L1152.3,656.4 L1154.3,660.4 L1156.3,664.5 L1158.3,668.7 L1160.3,673.0 L1162.3,677.4 L1164.3,681.9 L1166.3,686.6 L1168.3,691.4 L1170.3,696.3 L1172.3,701.3 L1174.3,706.2 L1176.3,711.2 L1178.3,716.1 L1180.3,720.9 L1182.3,725.6 L1184.3,730.1 L1186.3,734.5 L1188.3,738.6 L1190.3,742.6 L1192.3,746.3 L1194.3,749.9 L1196.3,753.3 L1198.3,756.5 L1200.3,759.6 L1202.3,762.6 L1204.3,765.5 L1206.3,768.3 L1208.3,771.1 L1210.3,773.8 L1212.3,776.4 L1214.3,778.9 L1216.3,781.4 L1218.3,783.8 L1220.3,786.1 L1222.3,788.4 L1224.3,790.6 L1226.3,792.6 L1228.3,794.6 L1230.3,796.5 L1232.3,798.2 L1234.3,799.8 L1236.3,801.3 L1238.3,802.5 L1240.3,803.2 L1242.3,803.3 L1244.3,802.4 L1246.3,800.7 L1248.3,798.1 L1250.3,794.6 L1252.3,790.2 L1254.3,784.9 L1256.3,778.7 L1258.3,771.7 L1260.3,763.9 L1262.3,755.2 L1264.3,745.7 L1266.3,735.3 L1268.3,724.1 L1270.3,712.0 L1272.3,699.1 L1274.3,685.4 L1276.3,670.7 L1278.3,654.9 L1280.3,637.9 L1282.3,619.9 L1284.3,602.6 L1286.3,586.9 L1288.3,572.3 L1290.3,558.2 L1292.3,544.2 L1294.3,529.8 L1296.3,514.7 L1298.3,499.2 L1300.3,483.7 L1302.3,468.6 L1304.3,454.2 L1306.3,440.9 L1308.3,429.1 L1310.3,419.0 L1312.3,410.3 L1314.3,402.3 L1316.3,394.4 L1318.3,385.9"/>
<path stroke="#0404dc" d="M328.2,325.4 L333.3,322.9 L339.4,315.2 L348.1,328.5 L351.6,321.9 L355.7,319.3 L360.3,325.9 L364.7,330.5 L368.0,319.8 L372.6,317.3 L376.7,327.0 L381.3,320.3 L385.3,322.9 L389.4,320.3 L393.3,331.6 L397.6,317.8 L401.5,293.8 L405.2,317.3 L409.8,316.8 L413.4,309.1 L418.0,318.3 L421.6,319.3 L426.2,314.7 L430.3,313.2 L434.1,308.6 L438.9,311.6 L442.5,317.8 L447.1,325.4 L450.7,325.9 L454.8,321.3 L458.8,324.9 L464.0,323.4 L467.5,320.8 L471.4,311.6 L475.2,316.2 L479.5,326.5 L483.7,308.4 L487.4,313.2 L492.0,320.3 L496.1,312.7 L500.7,315.2 L504.3,315.2 L508.4,318.8 L512.4,315.2 L516.5,314.2 L520.4,322.9 L524.8,332.1 L529.1,323.9 L532.9,319.8 L536.8,335.6 L540.8,330.5 L545.4,325.9 L549.7,332.6 L553.6,316.2 L557.2,316.2 L561.3,319.3 L565.3,314.2 L570.4,321.3 L574.5,323.4 L578.4,332.1 L581.7,329.0 L586.6,316.8 L590.4,322.9 L594.4,322.9 L598.5,335.1 L602.6,340.7 L606.7,339.2 L611.1,344.3 L615.4,335.6 L619.2,331.0 L623.5,341.3 L627.6,339.2 L631.7,340.7 L635.8,340.2 L640.9,338.2 L644.2,343.3 L647.8,324.4 L652.1,331.0 L656.2,344.3 L660.3,339.2 L668.5,331.6 L677.1,342.8 L681.2,338.2 L684.8,342.3 L688.9,353.0 L692.4,342.3 L696.0,342.3 L700.7,355.1 L704.8,359.2 L708.9,353.1 L713.0,347.5 L719.1,347.5 L722.7,344.9 L725.7,338.3 L730.3,349.0 L733.9,352.6 L739.0,350.0 L742.6,342.4 L746.7,341.3 L750.7,348.5 L754.3,346.5 L759.4,354.1 L763.5,356.7 L769.6,356.7 L774.7,355.6 L779.6,352.1 L783.4,371.5 L788.0,369.4 L792.1,358.2 L798.2,358.2 L803.3,357.7 L807.4,356.7 L812.5,349.0 L816.6,353.1 L821.2,364.3 L825.3,357.7 L828.8,356.7 L832.9,349.0 L837.0,346.5 L841.6,359.7 L849.3,361.3 L857.4,371.0 L861.5,366.9 L865.6,357.7 L870.2,368.4 L874.3,374.0 L878.9,364.8 L886.0,363.8 L890.0,354.1 L894.8,360.3 L898.9,360.8 L903.0,359.3 L906.7,375.1 L915.2,353.7 L919.3,369.0 L923.4,376.7 L927.5,376.7 L931.6,370.5 L935.6,382.3 L940.2,393.5 L944.3,378.2 L947.4,395.5 L951.0,397.1 L956.1,389.4 L960.7,395.5 L964.7,400.1 L968.8,397.6 L972.9,393.5 L976.0,403.7 L980.6,407.3 L984.6,412.4 L993.3,403.2 L997.4,418.5 L1001.5,420.6 L1005.6,416.5 L1010.0,432.5 L1017.7,454.9 L1021.3,450.3 L1025.3,451.9 L1030.4,459.0 L1035.0,460.5 L1042.7,475.3 L1046.8,473.8 L1050.9,471.3 L1054.4,484.0 L1059.0,492.7 L1067.7,483.0 L1071.3,501.9 L1075.2,518.9 L1079.8,505.1 L1087.5,541.9 L1092.1,545.4 L1096.2,554.1 L1100.2,545.4 L1107.9,582.2 L1112.7,571.5 L1116.6,596.5 L1120.7,602.1 L1124.7,593.4 L1128.3,608.0 L1133.7,616.8 L1137.3,617.9 L1141.9,627.6 L1145.9,640.8 L1149.0,660.2 L1153.6,667.9 L1157.7,665.3 L1162.3,673.5 L1166.4,685.8 L1170.4,698.0 L1174.5,704.1 L1178.2,726.1 L1182.8,733.3 L1186.4,729.7 L1191.5,741.4 L1195.0,755.7 L1199.1,772.1 L1201.7,761.9 L1206.8,762.4 L1209.3,767.0 L1210.4,772.1 L1214.4,777.7 L1219.5,768.0 L1223.1,768.0 L1226.2,780.2 L1229.2,790.4 L1233.3,795.5 L1243.5,806.8 L1248.1,815.5 L1252.2,809.8 L1257.8,785.3 L1264.0,763.9 L1268.0,740.4 L1270.6,720.0 L1281.1,642.3 L1285.7,665.2 L1287.7,630.0 L1288.7,591.3 L1290.3,560.6 L1291.8,530.0 L1292.3,501.5 L1292.8,477.0 L1298.4,450.4 L1301.5,429.8 L1305.1,406.9 L1309.1,415.5 L1312.7,406.4 L1314.8,385.9 L1316.8,359.4"/>
</g>
<g font-weight="700" fill="#000">
<text transform="translate(205.0,105.7) scale(1,1.01)" font-size="64.0" >The effect of filter on CMJ <tspan font-style="italic">up</tspan> <tspan letter-spacing="0.4">phase</tspan> <tspan font-style="italic" dx="1.2">RFD</tspan></text>
<text transform="translate(0,165.9) scale(1,1.02)" font-size="44.6" x="568.8 585.3 611.9 641.2 684.8 712.0 725.9 755.6 781.7 795.3 825.0 853.4 868.2 883.3 909.4 925.2 950.9 975.7 991.4 1017.4 1060.5">(Jump height = 35 cm)</text>
<text transform="translate(294.9,997.6) scale(1,1.02)" font-size="54.75" >Time (% lowest displacement to take-off)</text>
<text transform="translate(99.6,579.0) rotate(-90) scale(1,1.03)" text-anchor="middle" font-size="56.2">RFD (N/s)</text>
</g>
<g fill="#000">
<text transform="translate(780.5,254.4) scale(1,1.02)" font-size="31.3" ><tspan font-style="italic" letter-spacing="1.75">Displacement</tspan> <tspan dx="-0.6">m</tspan><tspan dx="5.9">in</tspan><tspan dx="5.1">im</tspan><tspan dx="6.7">a</tspan></text>
<text transform="translate(855.0,535.8) scale(1,1.0)" font-size="44.5" >-<tspan font-weight="700" font-style="italic">a</tspan><tspan font-size="43.2" dx="1.6" textLength="26.7" lengthAdjust="spacingAndGlyphs">z</tspan></text>
<text transform="translate(886.8,581.4) scale(1,1.02)" font-size="35.95" text-anchor="middle">(Deceleration)</text>
<text transform="translate(728.6,812.7) scale(1,1.0)" font-size="44.5" >+<tspan font-weight="700" font-style="italic">a</tspan><tspan font-size="43.2" dx="-0.5" textLength="26.7" lengthAdjust="spacingAndGlyphs">z</tspan></text>
<text transform="translate(763.6,858.5) scale(1,1.02)" font-size="35.85" text-anchor="middle">(Propulsion)</text>
</g>
<g stroke-width="3.2" fill="none">
<line x1="1469.8" y1="293.5" x2="1540.7" y2="293.5" stroke="#0404dc"/>
<line x1="1469.8" y1="383.0" x2="1540.7" y2="383.0" stroke="#e3061a"/>
<line x1="1469.8" y1="472.6" x2="1540.7" y2="472.6" stroke="#1fb41c"/>
<line x1="1469.8" y1="561.9" x2="1540.7" y2="561.9" stroke="#a316e0"/>
<line x1="1469.8" y1="651.6" x2="1540.7" y2="651.6" stroke="#f08519"/>
</g>
<g fill="#000">
<text transform="translate(1580.0,311.3) scale(1,1.035)" font-size="53.5" letter-spacing="0.94">RFD (raw)</text>
<text transform="translate(1580.0,400.7) scale(1,1.035)" font-size="53.5" letter-spacing="1.5">RFD (BW 50)</text>
<text transform="translate(1580.0,490.4) scale(1,1.035)" font-size="53.5" letter-spacing="1.5">RFD (BW 10)</text>
<text transform="translate(1580.0,579.9) scale(1,1.035)" font-size="53.5" letter-spacing="1.17">RFD (MA 10)</text>
<text transform="translate(1580.0,669.7) scale(1,1.035)" font-size="53.5" letter-spacing="1.17">RFD (MA 40)</text>
</g>
</svg>
</body>
</html>
